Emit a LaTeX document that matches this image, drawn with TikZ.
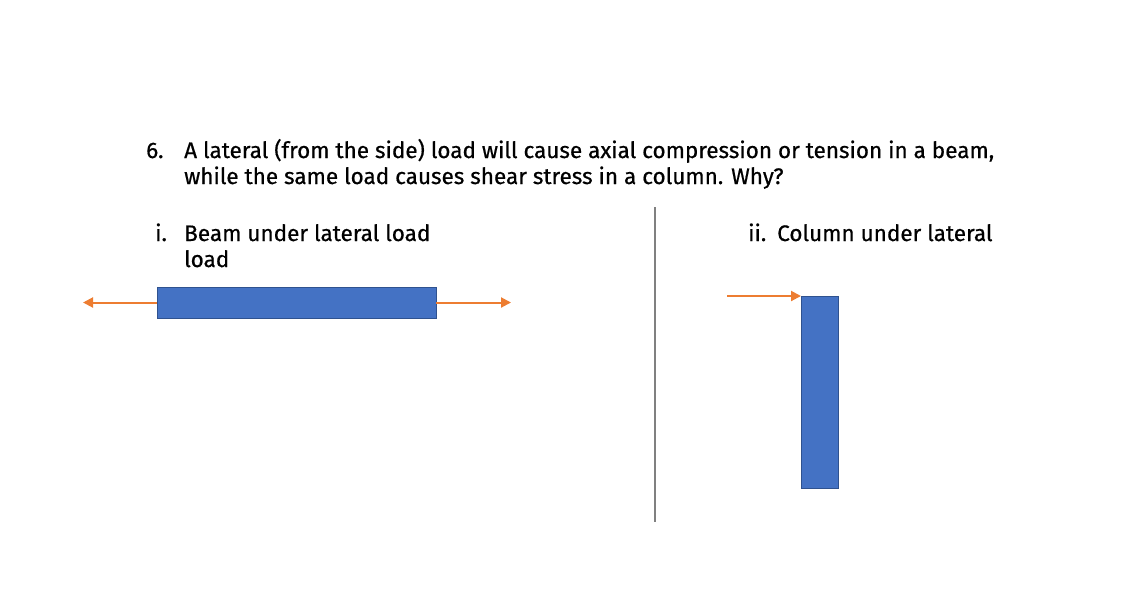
\documentclass[tikz,border=0pt]{standalone}
\usepackage{fontspec}
\setmainfont{Fira Sans}[FakeBold=0.6]
\usepackage{xcolor}
\usetikzlibrary{positioning,calc,arrows.meta}
\definecolor{memberblue}{HTML}{4472C4}
\definecolor{memberedge}{HTML}{2F528F}
\definecolor{loadorange}{HTML}{ED7D31}
\tikzset{
  member/.style={draw=memberedge, fill=memberblue, line width=1pt, inner sep=0pt, outer sep=0pt},
  load/.style={draw=loadorange, line width=2pt, -{Triangle[length=10pt,width=10pt]}},
  txt/.style={anchor=base west, inner sep=0pt, font=\fontsize{22.5}{26}\selectfont}
}
\begin{document}
\begin{tikzpicture}[x=1pt,y=-1pt]
        \useasboundingbox (0,0) rectangle (1143,598);
        % Question
        \node[txt] (qnum) at (146,158) {6.};
        \node[txt] (qline1) at (184,158) {A lateral (from the side) load will cause axial compression or tension in a beam,};
        \node[txt] (qline2) at (184,184) {while the same load causes shear stress in a column. Why?};

        % Divider
        \draw[gray, line width=1.2pt] (655,207) coordinate (divtop) -- (655,522) coordinate (divbot);

        % Beam case
        \node[txt] (inum) at (155,241) {i.};
        \node[txt] (ilabel) at (184,241) {Beam under lateral load};
        \node[txt] (ilabel2) at (184,267) {load};
        \node[member, minimum width=279pt, minimum height=31pt] (beam) at (296.5,302.5) {};
        \coordinate (lefttip) at (83,302.5);
        \coordinate (righttip) at (511,302.5);
        \draw[load] (beam.west) -- (lefttip);
        \draw[load] (beam.east) -- (righttip);

        % Column case
        \node[txt] (iinum) at (748,241) {ii.};
        \node[txt] (iilabel) at (777,241) {Column under lateral};
        \node[member, minimum width=37pt, minimum height=192pt] (column) at (819.5,392) {};
        \coordinate (pushstart) at (727,296);
        \draw[load] (pushstart) -- (column.north west);
\end{tikzpicture}
\end{document}
